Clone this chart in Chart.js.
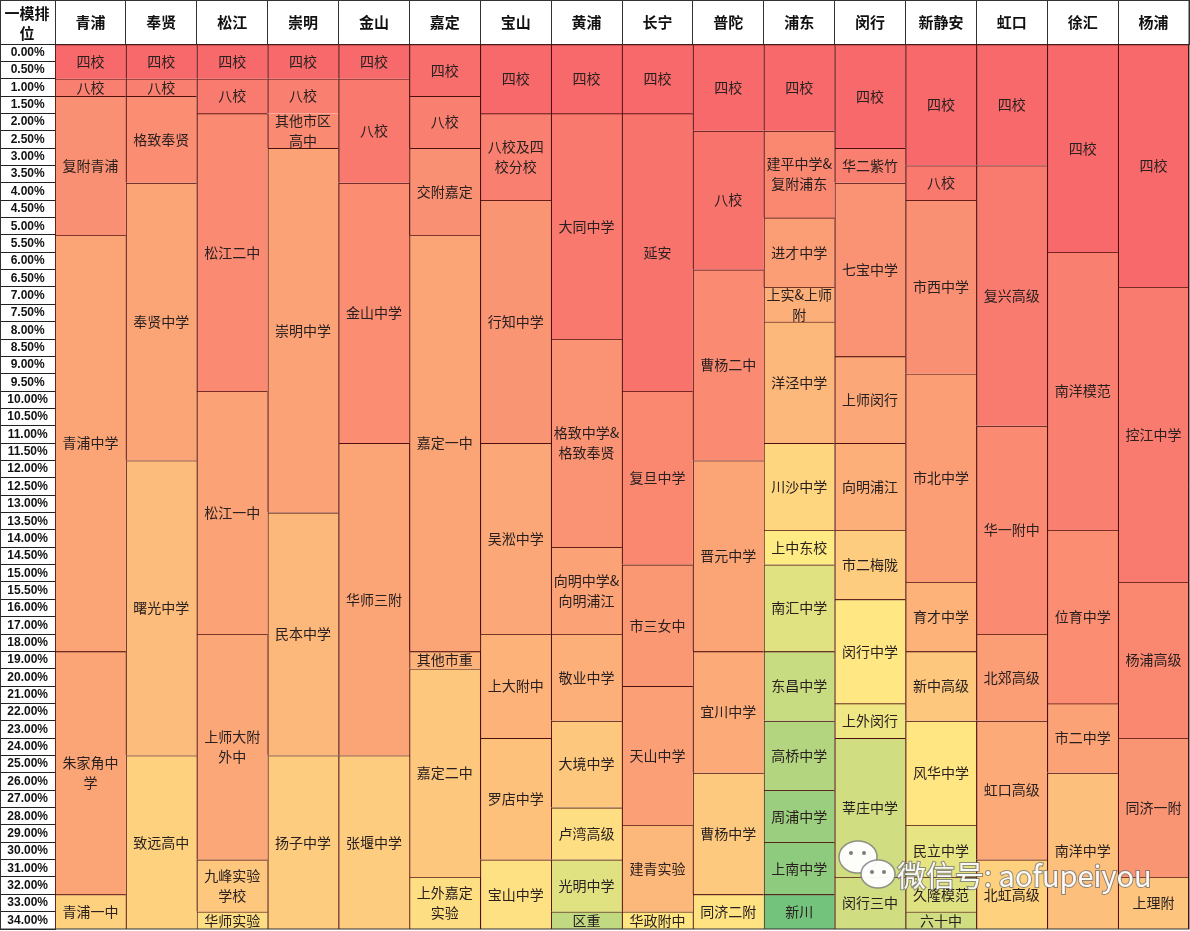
<!DOCTYPE html>
<html><head><meta charset="utf-8">
<script src="https://cdn.jsdelivr.net/npm/chart.js@4.4.1/dist/chart.umd.min.js"></script>
<style>html,body{margin:0;padding:0;background:#fff;overflow:hidden}canvas{display:block}</style>
</head><body>
<canvas id="c" width="1190" height="931"></canvas>
<script>
// ---- data ----
const districts = ['青浦','奉贤','松江','崇明','金山','嘉定','宝山','黄浦','长宁','普陀','浦东','闵行','新静安','虹口','徐汇','杨浦'];
const rankLabels = ['0.00%','0.50%','1.00%','1.50%','2.00%','2.50%','3.00%','3.50%','4.00%','4.50%','5.00%','5.50%','6.00%','6.50%','7.00%','7.50%','8.00%','8.50%','9.00%','9.50%','10.00%','10.50%','11.00%','11.50%','12.00%','12.50%','13.00%','13.50%','14.00%','14.50%','15.00%','15.50%','16.00%','17.00%','18.00%','19.00%','20.00%','21.00%','22.00%','23.00%','24.00%','25.00%','26.00%','27.00%','28.00%','29.00%','30.00%','31.00%','32.00%','33.00%','34.00%'];
// school names per district (top to bottom)
const schools = [
  ['四校','八校','复附青浦','青浦中学','朱家角中\n学','青浦一中'],
  ['四校','八校','格致奉贤','奉贤中学','曙光中学','致远高中'],
  ['四校','八校','松江二中','松江一中','上师大附\n外中','九峰实验\n学校','华师实验'],
  ['四校','八校','其他市区\n高中','崇明中学','民本中学','扬子中学'],
  ['四校','八校','金山中学','华师三附','张堰中学'],
  ['四校','八校','交附嘉定','嘉定一中','其他市重','嘉定二中','上外嘉定\n实验'],
  ['四校','八校及四\n校分校','行知中学','吴淞中学','上大附中','罗店中学','宝山中学'],
  ['四校','大同中学','格致中学&\n格致奉贤','向明中学&\n向明浦江','敬业中学','大境中学','卢湾高级','光明中学','区重'],
  ['四校','延安','复旦中学','市三女中','天山中学','建青实验','华政附中'],
  ['四校','八校','曹杨二中','晋元中学','宜川中学','曹杨中学','同济二附'],
  ['四校','建平中学&\n复附浦东','进才中学','上实&上师\n附','洋泾中学','川沙中学','上中东校','南汇中学','东昌中学','高桥中学','周浦中学','上南中学','新川'],
  ['四校','华二紫竹','七宝中学','上师闵行','向明浦江','市二梅陇','闵行中学','上外闵行','莘庄中学','闵行三中'],
  ['四校','八校','市西中学','市北中学','育才中学','新中高级','风华中学','民立中学','久隆模范','六十中'],
  ['四校','复兴高级','华一附中','北郊高级','虹口高级','北虹高级'],
  ['四校','南洋模范','位育中学','市二中学','南洋中学'],
  ['四校','控江中学','杨浦高级','同济一附','上理附']
];
// rank-row boundaries of each school band (row index in rankLabels, top to bottom)
const bounds = [
  [0,2,3,11,35,49,51],
  [0,2,3,8,24,41,51],
  [0,2,4,20,34,47,50,51],
  [0,2,4,6,27,41,51],
  [0,2,8,23,41,51],
  [0,3,6,11,35,36,48,51],
  [0,4,9,23,34,40,47,51],
  [0,4,17,29,34,39,44,47,50,51],
  [0,4,20,30,37,45,50,51],
  [0,5,13,24,35,42,49,51],
  [0,5,10,14,16,23,28,30,35,39,43,46,49,51],
  [0,6,8,18,23,28,32,38,40,48,51],
  [0,7,9,19,31,35,39,45,48,50,51],
  [0,7,22,34,39,47,51],
  [0,12,28,38,42,51],
  [0,14,31,40,48,51]
];

// ---- style ----
// heat position of each band on red-yellow-green scale (0 red, .5 yellow, 1 green)
const shade = [
  [0.0,0.09,0.15,0.23,0.23,0.40],
  [0.0,0.09,0.14,0.23,0.32,0.40],
  [0.0,0.07,0.13,0.22,0.24,0.36,0.45],
  [0.0,0.09,0.13,0.22,0.30,0.38],
  [0.0,0.06,0.14,0.23,0.38],
  [0.02,0.09,0.15,0.23,0.28,0.36,0.45],
  [0.0,0.09,0.17,0.24,0.28,0.34,0.46],
  [0.0,0.06,0.16,0.22,0.27,0.36,0.45,0.60,0.70],
  [0.0,0.04,0.12,0.18,0.21,0.30,0.48],
  [0.0,0.04,0.13,0.23,0.25,0.37,0.47],
  [0.0,0.12,0.20,0.27,0.30,0.42,0.50,0.60,0.68,0.74,0.82,0.86,0.95],
  [0.0,0.09,0.16,0.24,0.27,0.38,0.49,0.55,0.65,0.65],
  [0.0,0.06,0.15,0.20,0.28,0.36,0.48,0.58,0.60,0.65],
  [0.0,0.07,0.13,0.20,0.25,0.40],
  [0.0,0.09,0.14,0.22,0.33],
  [0.0,0.07,0.12,0.17,0.35]
];
const seamless = [[3,2]]; // [district, band] drawn without a top rule
const RED=[248,105,107], YEL=[255,235,132], GRN=[99,190,123];
function heatColor(t){
  let a,b,f;
  if(t<=0.5){a=RED;b=YEL;f=t/0.5;}else{a=YEL;b=GRN;f=(t-0.5)/0.5;}
  const c=a.map((v,i)=>Math.round(v+(b[i]-v)*f));
  return `rgb(${c[0]},${c[1]},${c[2]})`;
}
const LINE='#4e0f0f';
const maxBands = Math.max(...schools.map(s=>s.length));
const datasets=[];
for(let k=0;k<maxBands;k++){
  datasets.push({
    label:'band'+k,
    data: districts.map((d,c)=> bounds[c][k+1]!==undefined ? [bounds[c][k],bounds[c][k+1]] : null),
    backgroundColor: districts.map((d,c)=> shade[c][k]!==undefined ? heatColor(shade[c][k]) : 'transparent'),
    borderColor: LINE,
    borderSkipped:false,
    borderWidth:(ctx)=> seamless.some(p=>p[0]===ctx.dataIndex&&p[1]===ctx.datasetIndex) ? {top:0,left:1.2,right:0,bottom:0} : {top:1.2,left:1.2,right:0,bottom:0},
    barPercentage:1, categoryPercentage:1
  });
}

const labelPlugin={
  id:'bandLabels',
  afterDatasetsDraw(chart){
    const ctx=chart.ctx;
    ctx.save();
    ctx.font='14px "Noto Sans CJK SC", "Noto Sans", sans-serif';
    ctx.fillStyle='#2a2020';
    ctx.textAlign='center';ctx.textBaseline='middle';
    chart.data.datasets.forEach((ds,k)=>{
      const meta=chart.getDatasetMeta(k);
      meta.data.forEach((el,c)=>{
        const name=schools[c][k]; if(!name) return;
        const p=el.getProps(['x','y','base'],true);
        const cy=(p.y+p.base)/2;
        const lines=name.split('\n'); const lh=20;
        lines.forEach((ln,i)=>ctx.fillText(ln,p.x,cy+(i-(lines.length-1)/2)*lh));
      });
    });
    ctx.restore();
  },
  afterDraw(chart){
    const ctx=chart.ctx, a=chart.chartArea;
    ctx.save();
    // corner header
    ctx.fillStyle='#111';ctx.font='bold 15px "Noto Sans CJK SC", sans-serif';
    ctx.textAlign='center';ctx.textBaseline='middle';
    ctx.fillText('一模排',27,13);ctx.fillText('位',27,33);
    // frame
    ctx.strokeStyle='#333';ctx.lineWidth=1;
    ctx.strokeRect(0.5,0.5,a.right-0.5,a.bottom-0.5);
    ctx.strokeStyle=LINE;
    ctx.beginPath();ctx.moveTo(a.right-0.5,a.top);ctx.lineTo(a.right-0.5,a.bottom);ctx.stroke();
    // watermark
    const bx=858,by=857;
    ctx.lineWidth=1.5;ctx.strokeStyle='rgba(120,120,120,0.8)';ctx.fillStyle='rgba(255,255,255,0.95)';
    ctx.beginPath();ctx.ellipse(bx,by,19,16,0,0,Math.PI*2);ctx.fill();ctx.stroke();
    ctx.beginPath();ctx.ellipse(bx+20,by+17,17,14,0,0,Math.PI*2);ctx.fill();ctx.stroke();
    ctx.fillStyle='rgba(110,110,110,0.9)';
    [[bx-7,by-4],[bx+6,by-4],[bx+14,by+15],[bx+26,by+15]].forEach(q=>{ctx.beginPath();ctx.arc(q[0],q[1],2,0,Math.PI*2);ctx.fill();});
    ctx.font='29px "Noto Sans CJK SC", sans-serif';ctx.textAlign='left';
    ctx.lineWidth=2;ctx.strokeStyle='rgba(110,110,110,0.75)';ctx.fillStyle='rgba(255,255,255,0.95)';
    ctx.strokeText('微信号: aofupeiyou',897,876);ctx.fillText('微信号: aofupeiyou',897,876);
    ctx.restore();
  }
};

new Chart(document.getElementById('c'),{
  type:'bar',
  data:{labels:districts,datasets},
  options:{
    responsive:false,animation:false,
    layout:{padding:{top:0,left:0,right:1,bottom:2}},
    plugins:{legend:{display:false},tooltip:{enabled:false},title:{display:false}},
    scales:{
      x:{
        position:'top',stacked:true,offset:true,
        afterFit(s){s.height=44;},
        grid:{offset:true,drawOnChartArea:false,tickLength:44,color:'#333',lineWidth:1},
        border:{display:true,color:'#333'},
        ticks:{font:{family:'"Noto Sans CJK SC", sans-serif',size:15,weight:'bold'},color:'#111',padding:-31,maxRotation:0,autoSkip:false}
      },
      y:{
        type:'linear',reverse:true,min:0,max:51,stacked:false,
        afterFit(s){s.width=55;},
        afterBuildTicks(s){s.ticks=rankLabels.concat(['']).map((l,i)=>({value:i}));},
        grid:{drawOnChartArea:false,tickLength:55,color:'#222',lineWidth:1},
        border:{display:true,color:'#222'},
        ticks:{autoSkip:false,crossAlign:'center',padding:-48,labelOffset:8.68,
          font:{family:'"Liberation Sans", Arial, sans-serif',size:12,weight:'bold'},color:'#111',
          callback:(v,i)=>rankLabels[i]!==undefined?rankLabels[i]:''}
      }
    }
  },
  plugins:[labelPlugin]
});
</script>
</body></html>
